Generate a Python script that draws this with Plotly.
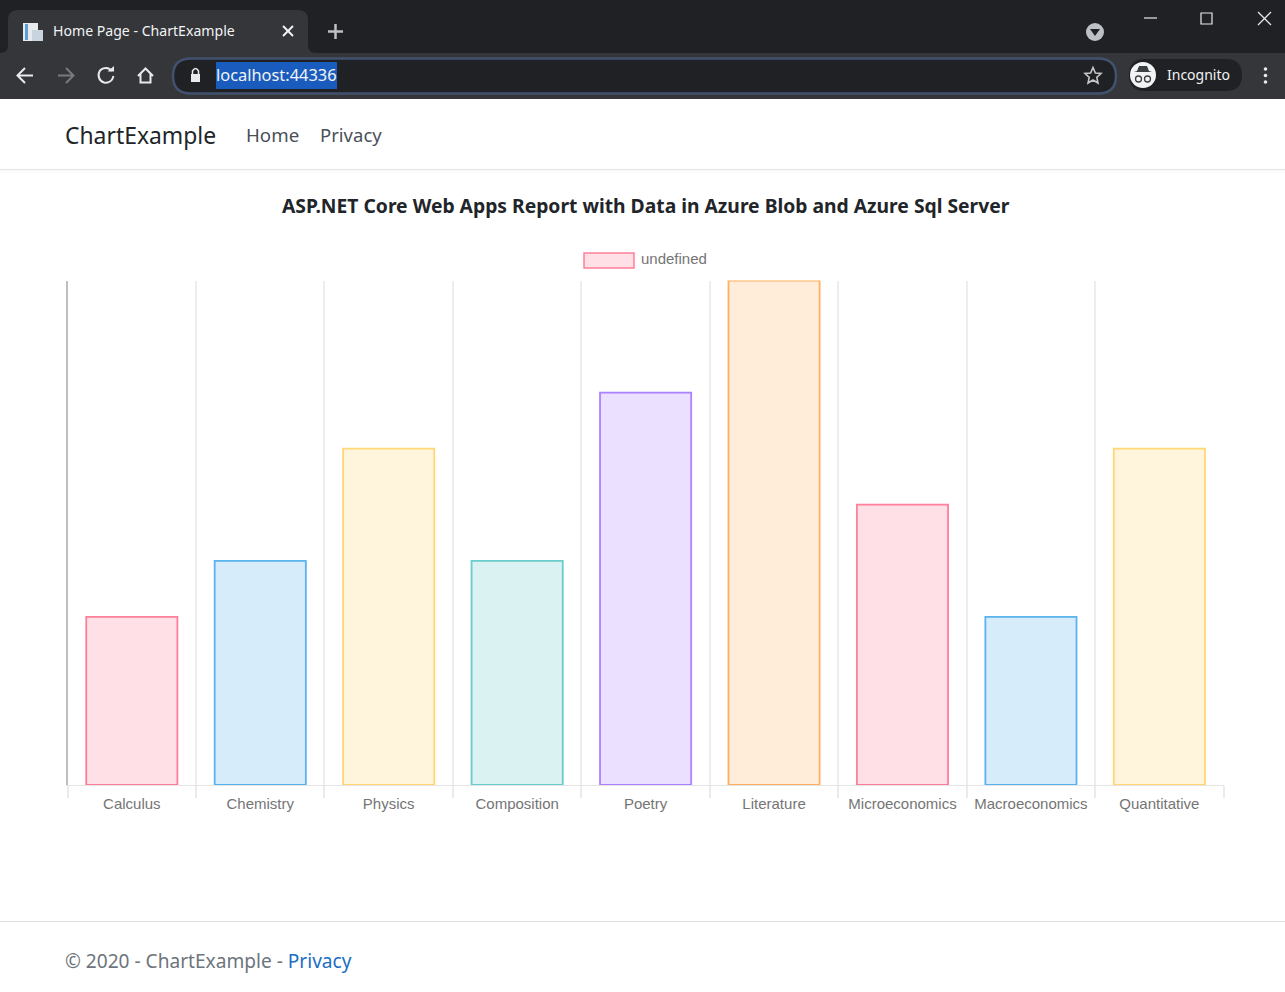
import plotly.graph_objects as go

#-------------------------------------------------------------------------------------------------------
# data

categories = ["Calculus", "Chemistry", "Physics", "Composition", "Poetry", "Literature",
              "Microeconomics", "Macroeconomics", "Quantitative"]
values = [3, 4, 6, 4, 7, 9, 5, 3, 6]
series_name = "undefined"

bar_fills = ["rgba(255,99,132,0.2)", "rgba(54,162,235,0.2)", "rgba(255,206,86,0.2)",
             "rgba(75,192,192,0.2)", "rgba(153,102,255,0.2)", "rgba(255,159,64,0.2)",
             "rgba(255,99,132,0.2)", "rgba(54,162,235,0.2)", "rgba(255,206,86,0.2)"]
bar_lines = ["rgba(255,99,132,0.8)", "rgba(54,162,235,0.8)", "rgba(255,206,86,0.8)",
             "rgba(75,192,192,0.8)", "rgba(153,102,255,0.8)", "rgba(255,159,64,0.8)",
             "rgba(255,99,132,0.8)", "rgba(54,162,235,0.8)", "rgba(255,206,86,0.8)"]

W = 1285
H = 992
UI_FONT = "Noto Sans"
CHART_FONT = "Liberation Sans"

#-------------------------------------------------------------------------------------------------------
# helpers: page furniture lives on a hidden pixel axis pair (x2, y2)

shapes = []
annotations = []


def rect(x0, y0, x1, y1, fill, line=None, width=0):
    shapes.append(dict(type="rect", xref="x2", yref="y2", x0=x0, y0=y0, x1=x1, y1=y1, fillcolor=fill,
                       line=dict(color=line or fill, width=width)))


def line(x0, y0, x1, y1, color, width=2):
    shapes.append(dict(type="line", xref="x2", yref="y2", x0=x0, y0=y0, x1=x1, y1=y1,
                       line=dict(color=color, width=width)))


def path(d, fill="rgba(0,0,0,0)", color="rgba(0,0,0,0)", width=0):
    shapes.append(dict(type="path", xref="x2", yref="y2", path=d, fillcolor=fill,
                       line=dict(color=color, width=width)))


def circle(cx, cy, r, fill, color=None, width=0):
    shapes.append(dict(type="circle", xref="x2", yref="y2", x0=cx - r, y0=cy - r, x1=cx + r, y1=cy + r,
                       fillcolor=fill, line=dict(color=color or fill, width=width)))


def text(x, y, s, size, color, font=UI_FONT, anchor="left", weight=None):
    f = dict(family=font, size=size, color=color)
    if weight:
        f["weight"] = weight
    # annotations sit about a pixel low and right of the asked spot
    annotations.append(dict(xref="x2", yref="y2", x=x - 1, y=y - 1, text=s, showarrow=False, xanchor=anchor,
                            yanchor="middle", font=f, borderpad=0))


#-------------------------------------------------------------------------------------------------------
# browser window

rect(0, 0, W, 53, "#202124")
rect(0, 53, W, 99, "#35363a")
path("M 0 53 Q 8 53 8 45 L 8 20 Q 8 10 18 10 L 298 10 Q 308 10 308 20 L 308 45 Q 308 53 316 53 Z", fill="#35363a")

# tab icon
rect(23, 23, 38, 41, "#e8eaed")
rect(25, 24, 28, 40, "#5a9fd4")
rect(32, 30, 43, 41, "#c8d4de")
text(53, 31, "Home Page - ChartExample", 14.1, "#f1f3f4")
line(283, 26, 293, 36, "#f1f3f4", 2)
line(293, 26, 283, 36, "#f1f3f4", 2)
line(328, 31.5, 343, 31.5, "#bdc1c6", 2.5)
line(335.5, 24, 335.5, 39, "#bdc1c6", 2.5)

# profile drop button and window buttons
circle(1095, 32, 9, "#bdc1c6")
path("M 1090 29 L 1100 29 L 1095 36 Z", fill="#202124")
line(1144, 18, 1157, 18, "#e8eaed", 1.2)
rect(1201, 13, 1212, 24, "rgba(0,0,0,0)", "#e8eaed", 1.2)
line(1258, 12, 1271, 25, "#e8eaed", 1.2)
line(1271, 12, 1258, 25, "#e8eaed", 1.2)

# back / forward / reload / home
path("M 33 75.5 L 18 75.5 M 25 68 L 17.5 75.5 L 25 83", color="#e8eaed", width=2)
path("M 58 75.5 L 73 75.5 M 66 68 L 73.5 75.5 L 66 83", color="#77797d", width=2)
path("M 112 71 C 109 67, 103 67, 100 70.5 C 97 75, 99 81, 104 82.5 C 109 83.5, 112.5 80.5, 113.5 76", color="#e8eaed", width=2)
path("M 107.5 71.5 L 114 71.5 L 114 66 Z", fill="#e8eaed")
path("M 138 76 L 145.5 68.5 L 153 76 M 140.5 74 L 140.5 82.5 L 150.5 82.5 L 150.5 74", color="#e8eaed", width=2)

# address bar
path("M 191 58.5 L 1098 58.5 Q 1116 58.5 1116 76 Q 1116 93.5 1098 93.5 L 191 93.5 Q 173 93.5 173 76 Q 173 58.5 191 58.5 Z",
     fill="#202124", color="#41526e", width=2.5)
rect(191, 74, 200, 82, "#e8eaed")
path("M 192.5 74 L 192.5 71 Q 195.5 66 198.5 71 L 198.5 74", color="#e8eaed", width=1.5)
rect(216, 62, 337, 89, "#1a5cbe")
text(216, 75.5, "localhost:44336", 16.4, "#f1f3f4")
path("M 1093 67.5 L 1095.4 73 L 1101 73.5 L 1096.8 77.3 L 1098 83 L 1093 80 L 1088 83 L 1089.2 77.3 L 1085 73.5 L 1090.6 73 Z",
     color="#c4c7c5", width=1.6)

# incognito pill
path("M 1145 59 L 1226 59 Q 1242 59 1242 75 Q 1242 91 1226 91 L 1145 91 Q 1129 91 1129 75 Q 1129 59 1145 59 Z", fill="#202124")
circle(1143, 75, 13, "#f1f3f4")
path("M 1137 71 L 1139 66 L 1147 66 L 1149 71 L 1152 72 L 1134 72 Z", fill="#3c3f43")
circle(1138.5, 79, 3, "rgba(0,0,0,0)", "#3c3f43", 1.3)
circle(1147.5, 79, 3, "rgba(0,0,0,0)", "#3c3f43", 1.3)
text(1167, 75, "Incognito", 14, "#f1f3f4")
circle(1265.5, 69, 1.8, "#e8eaed")
circle(1265.5, 75.5, 1.8, "#e8eaed")
circle(1265.5, 82, 1.8, "#e8eaed")

#-------------------------------------------------------------------------------------------------------
# page: navbar, footer, chart title, legend

text(65, 136, "ChartExample", 22.9, "#212529")
text(246, 135, "Home", 18.7, "#495057")
text(320, 135, "Privacy", 18.5, "#495057")
line(0, 169.5, W, 169.5, "#e5e5e5", 1)
rect(0, 170, W, 173, "#fafafa")

text(646.5, 206, "ASP.NET Core Web Apps Report with Data in Azure Blob and Azure Sql Server", 19.3, "#212529",
     anchor="center", weight=700)

rect(584, 253, 634, 268, bar_fills[0], bar_lines[0], 1.5)
text(641, 259, series_name, 15, "#757575", font=CHART_FONT)

line(0, 921.5, W, 921.5, "#dee2e6", 1)
text(65, 962, '© 2020 - ChartExample - <span style="color:#1b6ec2">Privacy</span>', 19.1, "#6c757d")

#-------------------------------------------------------------------------------------------------------
# chart

fig = go.Figure()
fig.add_trace(go.Bar(x=categories, y=values, name=series_name, marker=dict(color=bar_fills, line=dict(color=bar_lines, width=1.8)),
                     cliponaxis=False, showlegend=False))

fig.update_layout(
    width=W, height=H, margin=dict(l=0, r=0, t=0, b=0), paper_bgcolor="white", plot_bgcolor="rgba(0,0,0,0)",
    bargap=0.29, showlegend=False, shapes=shapes, annotations=annotations,
    xaxis=dict(domain=[67.6 / W, 1223.6 / W], anchor="y", type="category", tickson="boundaries", ticks="outside", ticklen=12,
               tickcolor="rgba(0,0,0,0.08)", tickwidth=2, showgrid=True, gridcolor="rgba(0,0,0,0.07)", gridwidth=2,
               showline=True, linecolor="rgba(0,0,0,0.1)", linewidth=1.2, zeroline=False, ticklabelstandoff=5,
               tickfont=dict(family=CHART_FONT, size=15, color="#757575"), fixedrange=True),
    yaxis=dict(domain=[1 - 785 / H, 1 - 280.5 / H], anchor="x", range=[0, 9], showgrid=False, zeroline=False,
               showticklabels=False, ticks="", showline=True, linecolor="rgba(0,0,0,0.25)", linewidth=1.6, fixedrange=True),
    xaxis2=dict(domain=[0, 1], anchor="y2", range=[0, W], visible=False, fixedrange=True),
    yaxis2=dict(domain=[0, 1], anchor="x2", range=[H, 0], visible=False, fixedrange=True),
)

fig.write_html("out.html", config=dict(displayModeBar=False),
               post_script="document.body.style.margin='0';document.body.style.overflow='hidden';")
